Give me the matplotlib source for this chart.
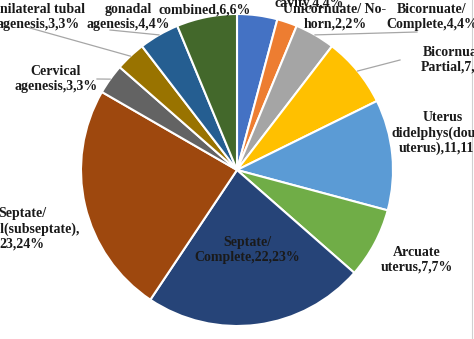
import numpy as np
import matplotlib
matplotlib.use('Agg')
import matplotlib.pyplot as plt

# Uterine anomaly counts, clockwise from 12 o'clock
categories = ['cavity', 'Unicornuate/ No-horn', 'Bicornuate/ Complete',
              'Bicornuate/ Partial', 'Uterus didelphys(double uterus)',
              'Arcuate uterus', 'Septate/ Complete',
              'Septate/ Partial(subseptate)', 'Cervical agenesis',
              'Unilateral tubal agenesis', 'gonadal agenesis', 'combined']
counts = [4, 2, 4, 7, 11, 7, 22, 23, 3, 3, 4, 6]
percents = [4, 2, 4, 7, 11, 7, 23, 24, 3, 3, 4, 6]
label_text = ['cavity,{},{}%', 'Unicornuate/ No-\nhorn,{},{}%',
              'Bicornuate/\nComplete,{},{}%', 'Bicornuate/\nPartial,{},{}%',
              'Uterus\ndidelphys(double\nuterus),{},{}%',
              'Arcuate\nuterus,{},{}%', 'Septate/\nComplete,{},{}%',
              'Septate/\nPartial(subseptate),\n{},{}%',
              'Cervical\nagenesis,{},{}%', 'Unilateral tubal\nagenesis,{},{}%',
              'gonadal\nagenesis,{},{}%', 'combined,{},{}%']
colors = ['#4472C4', '#ED7D31', '#A5A5A5', '#FFC000', '#5B9BD5', '#70AD47',
          '#264478', '#9E480E', '#636363', '#997300', '#255E91', '#43682B']

W, H = 474, 339
CX, CY, R = 237, 170, 156

# label centres in pixel coords (y measured from the top)
label_pos = [(309, 3), (335, 17), (432, 17), (458, 60), (443, 133),
             (417, 260), (247, 250), (22, 229), (56, 79), (38, 17),
             (128, 17), (205, 10)]
# leader line start points (label side), None where no leader is drawn
leader_from = [None, None, (417, 32), (400, 60), None, None, None, None,
               (97, 79), (30, 28), (110, 30), None]

fig = plt.figure(figsize=(W / 100, H / 100), dpi=100)
ax = fig.add_axes([0, 0, 1, 1])
ax.axis('off')

wedges, _ = ax.pie(counts, colors=colors, startangle=90, counterclock=False,
                   center=(CX, H - CY), radius=R,
                   wedgeprops=dict(edgecolor='white', linewidth=1.5))
ax.set_xlim(0, W)
ax.set_ylim(0, H)
ax.set_aspect('equal')

font = dict(family=['Liberation Serif', 'DejaVu Serif'], weight='bold',
            size=10, color='#1a1a1a')

for i, w in enumerate(wedges):
    mid = np.deg2rad((w.theta1 + w.theta2) / 2)
    edge = (CX + R * np.cos(mid), H - CY + R * np.sin(mid))
    if leader_from[i] is not None:
        lx, ly = leader_from[i]
        ax.plot([lx, edge[0]], [H - ly, edge[1]], color='#A6A6A6', lw=0.9,
                zorder=3)
    x, y = label_pos[i]
    ax.text(x, H - y, label_text[i].format(counts[i], percents[i]),
            ha='center', va='center', linespacing=1.2, zorder=4, **font)

# chart frame edge on the right
ax.plot([472, 472], [0, H], color='#D0D0D0', lw=0.8)

fig.savefig('out.png', dpi=100)
